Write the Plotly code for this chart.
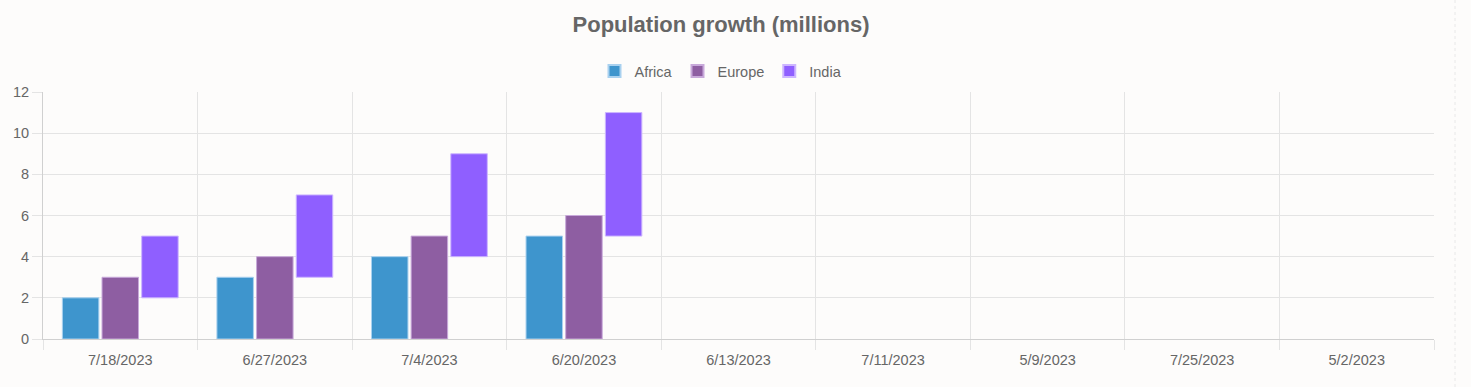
import plotly.graph_objects as go

categories = ["7/18/2023", "6/27/2023", "7/4/2023", "6/20/2023", "6/13/2023",
              "7/11/2023", "5/9/2023", "7/25/2023", "5/2/2023"]
africa = [2, 3, 4, 5]
europe = [3, 4, 5, 6]
india_low = [2, 3, 4, 5]
india_high = [5, 7, 9, 11]

cats_used = categories[:4]
india_len = [h - l for h, l in zip(india_high, india_low)]

fig = go.Figure()
fig.add_trace(go.Bar(name="Africa", x=cats_used, y=africa,
                     marker=dict(color="#3e95cd", line=dict(color="#a9d1ef", width=1))))
fig.add_trace(go.Bar(name="Europe", x=cats_used, y=europe,
                     marker=dict(color="#8e5ea2", line=dict(color="#c8a9da", width=1))))
fig.add_trace(go.Bar(name="India", x=cats_used, y=india_len, base=india_low,
                     marker=dict(color="#8f5fff", line=dict(color="#cdb6ff", width=1))))

grid = "#e4e4e4"
PH = 247
fs = 14.5
fig.update_layout(
    width=1471, height=387,
    paper_bgcolor="#fdfcfb", plot_bgcolor="#fdfcfb",
    margin=dict(l=43, r=37, t=92, b=48, autoexpand=False),
    barmode="group", bargap=0.23, bargroupgap=0.08,
    font=dict(family="Arial, Liberation Sans, sans-serif", size=fs, color="#666"),
    title=dict(text="<b>Population growth (millions)</b>", x=721/1471, xanchor="center",
               xref="container", y=1 - 24/387, yanchor="middle", yref="container",
               font=dict(size=22, color="#666")),
    legend=dict(orientation="h", x=721/1471, xanchor="center", xref="container",
                y=1 - 71/387, yref="container", yanchor="middle",
                font=dict(size=fs, color="#666"), itemsizing="constant"),
    xaxis=dict(categoryorder="array", categoryarray=categories,
               range=[-0.5, len(categories) - 0.5],
               tickmode="array", tickvals=categories, ticktext=categories,
               showgrid=True, gridcolor=grid, tickson="boundaries",
               ticks="outside", ticklen=10, tickcolor=grid, ticklabelstandoff=8,
               showline=True, linecolor="#d0d0d0", linewidth=1,
               mirror=False, zeroline=False, tickfont=dict(size=fs, color="#666")),
    yaxis=dict(range=[0, 12], dtick=2, showgrid=True, gridcolor=grid,
               ticks="outside", ticklen=10, tickcolor=grid,
               showline=True, linecolor="#d0d0d0", linewidth=1,
               zeroline=False, tickfont=dict(size=fs, color="#666")),
)
fig.add_shape(type="line", xref="paper", yref="paper", x0=(1455-43)/1391, x1=(1455-43)/1391,
              y0=-48/PH, y1=1+92/PH, line=dict(color="#e8e8e8", width=1, dash="dot"))

fig.write_html("out.html", config={"displayModeBar": False},
               post_script="document.body.style.margin='0';document.body.style.background='#fdfcfb';")
